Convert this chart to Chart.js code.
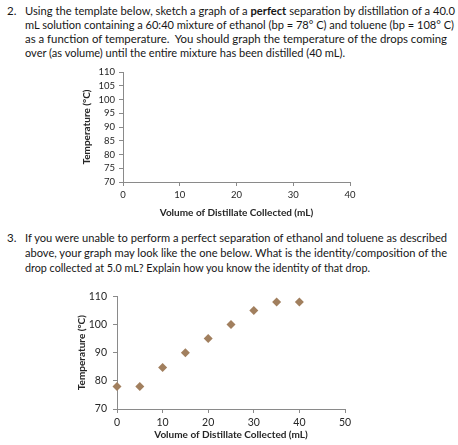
<!DOCTYPE html>
<html>
<head>
<meta charset="utf-8">
<script src="https://cdn.jsdelivr.net/npm/chart.js@4.4.0/dist/chart.umd.min.js"></script>
<style>
  html, body { margin: 0; padding: 0; background: #fff; }
  body { width: 458px; height: 445px; position: relative; overflow: hidden;
         font-family: Lato, "Open Sans", sans-serif; color: #161616; }
  .ln { position: absolute; white-space: nowrap; font-size: 11.5px; line-height: 14px;
        transform-origin: 0 0; }
  canvas { position: absolute; }
</style>
</head>
<body>
<!-- question 2 -->
<div class="ln" style="left:7px;top:4px">2.</div>
<div class="ln fit" data-w="430" style="left:25px;top:4px">Using the template below, sketch a graph of a <b>perfect</b> separation by distillation of a 40.0</div>
<div class="ln fit" data-w="429" style="left:25px;top:18px">mL solution containing a 60:40 mixture of ethanol (bp = 78° C) and toluene (bp = 108° C)</div>
<div class="ln fit" data-w="422" style="left:25px;top:32px">as a function of temperature.&nbsp; You should graph the temperature of the drops coming</div>
<div class="ln fit" data-w="320" style="left:25px;top:46px">over (as volume) until the entire mixture has been distilled (40 mL).</div>

<canvas id="blankChart" width="310" height="162" style="left:60px;top:60px"></canvas>

<!-- question 3 -->
<div class="ln" style="left:7px;top:231px">3.</div>
<div class="ln fit" data-w="422" style="left:25px;top:231px">If you were unable to perform a perfect separation of ethanol and toluene as described</div>
<div class="ln fit" data-w="422" style="left:25px;top:246px">above, your graph may look like the one below. What is the identity/composition of the</div>
<div class="ln fit" data-w="345" style="left:25px;top:261px">drop collected at 5.0 mL? Explain how you know the identity of that drop.</div>

<canvas id="distChart" width="300" height="159" style="left:60px;top:284px"></canvas>

<script>
// squeeze each text line to the width it has in the worksheet
document.querySelectorAll(".fit").forEach((el) => {
  const w = el.getBoundingClientRect().width;
  el.style.transform = "scaleX(" + (parseFloat(el.dataset.w) / w) + ")";
});

const volumes = [0, 5, 10, 15, 20, 25, 30, 35, 40];
const temps = [78, 78, 84.7, 90, 95, 100, 105, 108, 108];

const blankYTicks = [70, 75, 80, 85, 90, 95, 100, 105, 110];
const blankXTicks = [0, 10, 20, 30, 40];
const plotYTicks = [70, 80, 90, 100, 110];
const plotXTicks = [0, 10, 20, 30, 40, 50];

const xTitle = "Volume of Distillate Collected (mL)";
const yTitle = "Temperature (°C)";

Chart.defaults.font.family = "Lato, 'Open Sans', sans-serif";
Chart.defaults.color = "#262626";
Chart.defaults.animation = false;

const axisColor = "#8a8a8a";

// builds one Excel-looking axis pair
function makeScales(xTicks, yTicks, o) {
  return {
    x: {
      type: "linear",
      min: xTicks[0],
      max: xTicks[xTicks.length - 1],
      afterBuildTicks: (s) => { s.ticks = xTicks.map((v) => ({ value: v })); },
      afterFit: (s) => { s.height = o.xHeight; },
      grid: { drawOnChartArea: false, tickLength: 4, color: axisColor },
      border: { color: axisColor },
      ticks: { padding: o.xPad, font: { size: o.tickSize }, maxRotation: 0, autoSkip: false },
      title: {
        display: true,
        text: xTitle,
        font: { size: 10, weight: "bold" },
        padding: { top: 0, bottom: o.xTitlePad },
      },
    },
    y: {
      type: "linear",
      min: yTicks[0],
      max: yTicks[yTicks.length - 1],
      afterBuildTicks: (s) => { s.ticks = yTicks.map((v) => ({ value: v })); },
      afterFit: (s) => { s.width = o.yWidth; },
      grid: { drawOnChartArea: false, tickLength: 4, color: axisColor },
      border: { color: axisColor },
      ticks: { padding: o.yPad, font: { size: o.tickSize }, autoSkip: false },
      title: {
        display: true,
        text: yTitle,
        font: { size: 10, weight: "bold" },
        padding: { top: o.yTitlePad, bottom: 0 },
      },
    },
  };
}

new Chart(document.getElementById("blankChart"), {
  type: "scatter",
  data: { datasets: [{ data: [] }] },
  options: {
    responsive: false,
    devicePixelRatio: 1,
    layout: { padding: { top: 12, right: 20, left: 0, bottom: 0 } },
    plugins: { legend: { display: false }, tooltip: { enabled: false } },
    scales: makeScales(blankXTicks, blankYTicks, {
      xHeight: 40, yWidth: 63, tickSize: 9.5, xPad: 3, yPad: 4,
      xTitlePad: 3, yTitlePad: 21,
    }),
  },
});

new Chart(document.getElementById("distChart"), {
  type: "scatter",
  data: {
    datasets: [
      {
        data: volumes.map((v, i) => ({ x: v, y: temps[i] })),
        pointStyle: "rectRot",
        pointRadius: 4.5,
        backgroundColor: "#a17f5e",
        borderColor: "#a17f5e",
        borderWidth: 0,
        clip: false,
      },
    ],
  },
  options: {
    responsive: false,
    devicePixelRatio: 1,
    layout: { padding: { top: 12, right: 15, left: 0, bottom: 0 } },
    plugins: { legend: { display: false }, tooltip: { enabled: false } },
    scales: makeScales(plotXTicks, plotYTicks, {
      xHeight: 34, yWidth: 57, tickSize: 10.5, xPad: 3, yPad: 6,
      xTitlePad: 2, yTitlePad: 16,
    }),
  },
});
</script>
</body>
</html>
